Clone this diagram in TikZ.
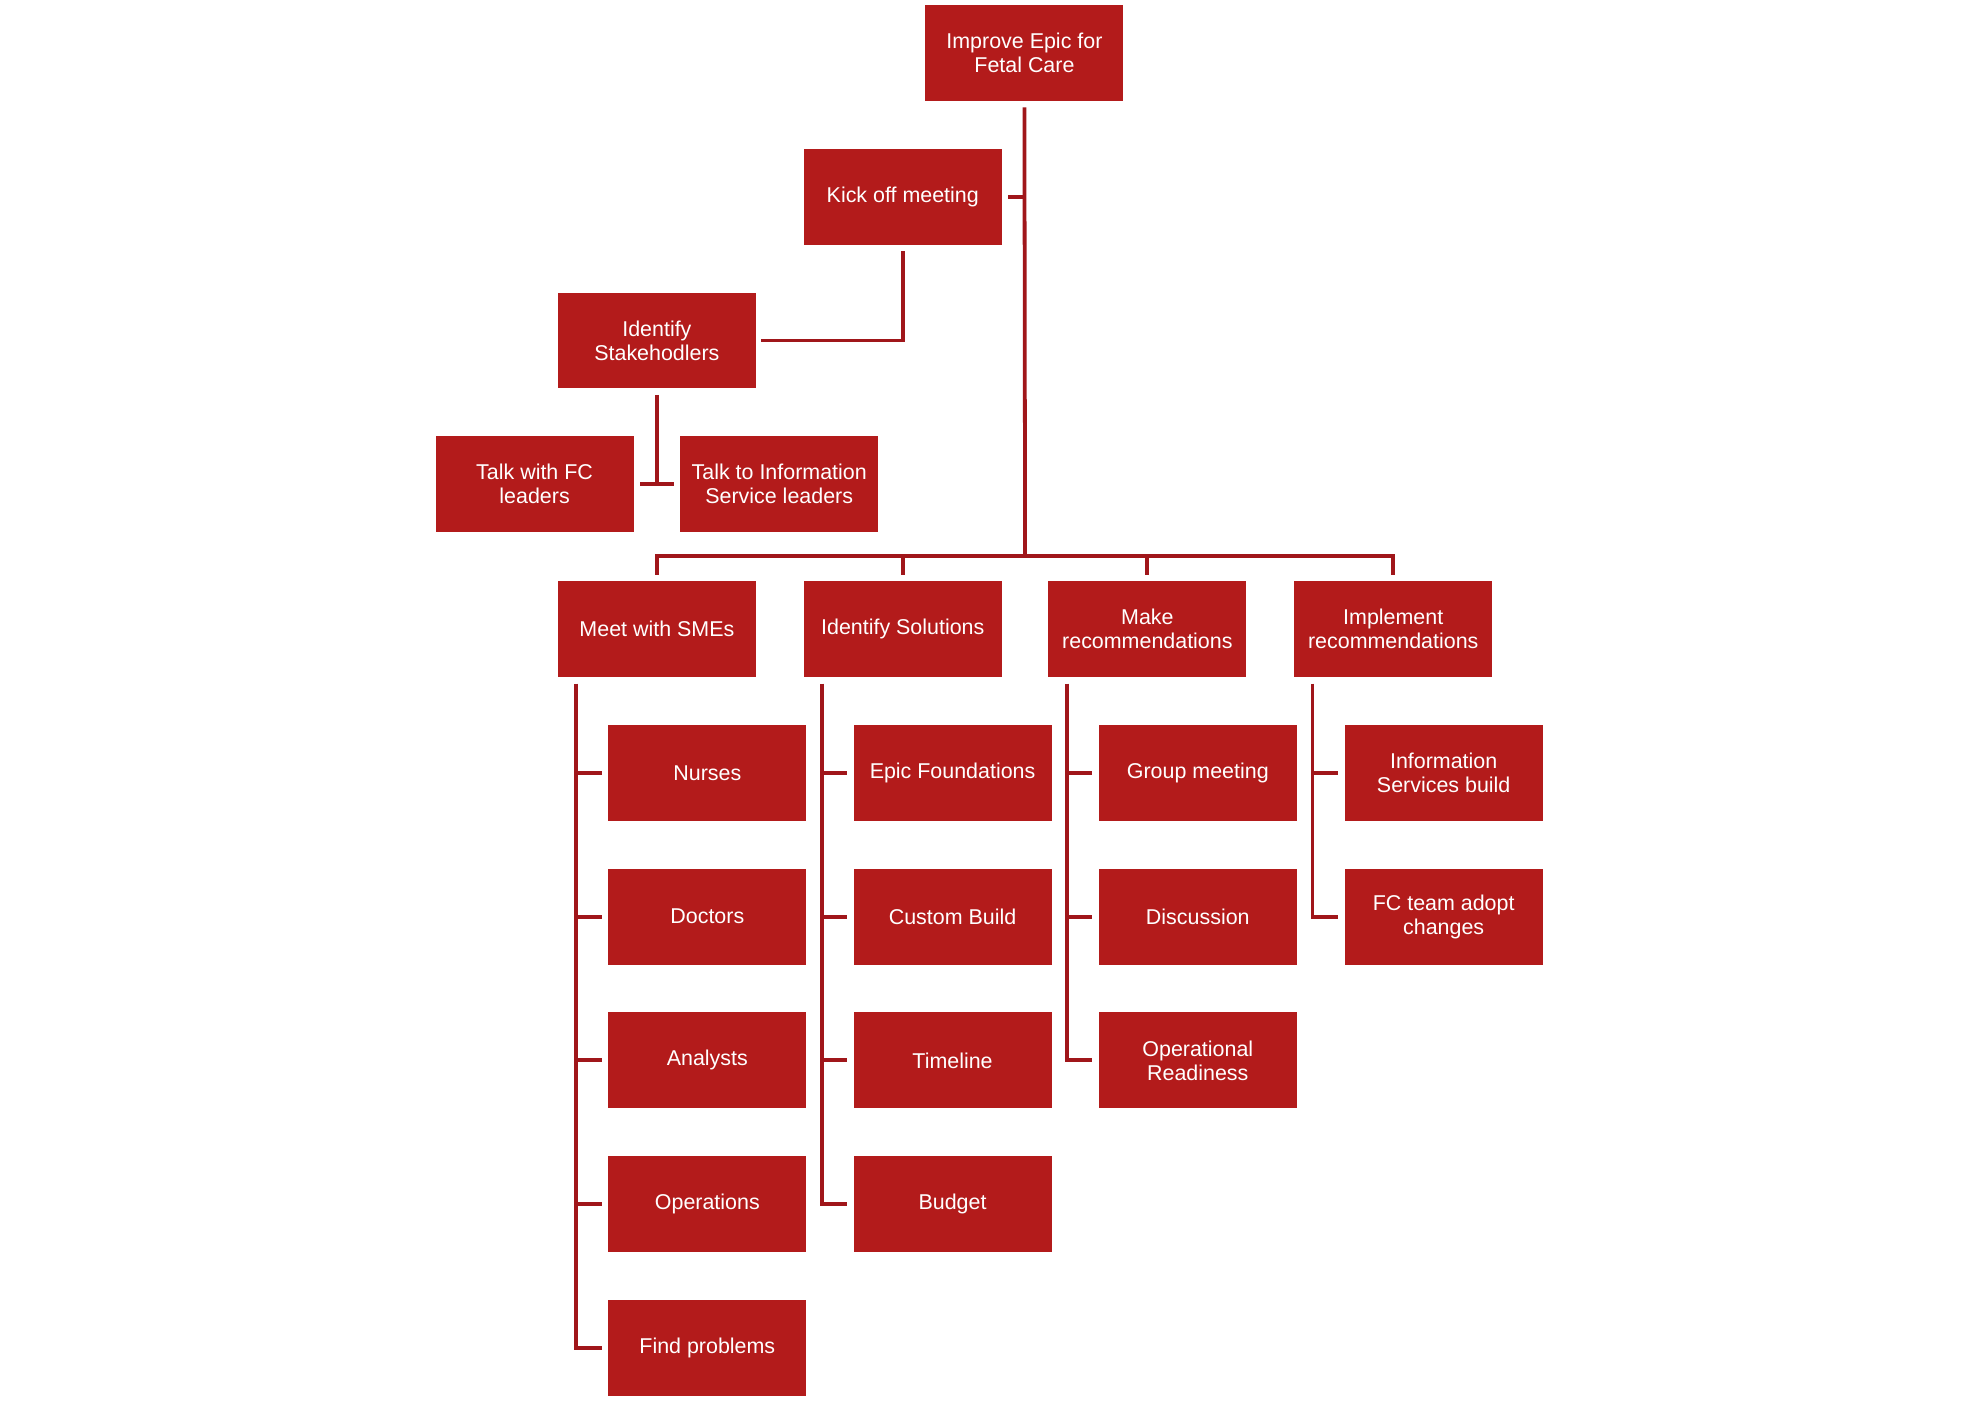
\documentclass[tikz,border=0pt]{standalone}
\usepackage{fontspec}
\setmainfont{Liberation Sans}
\definecolor{boxred}{HTML}{B31B1B}
\definecolor{linered}{HTML}{A0161A}
\begin{document}
\begin{tikzpicture}[x=1pt,y=-1pt,
  box/.style={fill=boxred,text=white,minimum width=157pt,minimum height=76pt,inner sep=2pt,align=center,font=\fontsize{17}{19}\selectfont},
  conn/.style={draw=linered,line width=3pt}]
\useasboundingbox (0,0) rectangle (1568,1112);
\node[box] (top) at (812.5,42) {Improve Epic for\\Fetal Care};
\node[box] (kick) at (716,156) {Kick off meeting};
\node[box] (stake) at (521,270) {Identify\\Stakehodlers};
\node[box] (fc) at (424,384) {Talk with FC\\leaders};
\node[box] (is) at (618,384) {Talk to Information\\Service leaders};
\node[box] (sme) at (521,499) {Meet with SMEs};
\node[box] (sol) at (716,499) {Identify Solutions};
\node[box] (rec) at (910,499) {Make\\recommendations};
\node[box] (imp) at (1105,499) {Implement\\recommendations};
\node[box] (a1) at (561,613) {Nurses};
\node[box] (a2) at (561,727) {Doctors};
\node[box] (a3) at (561,841) {Analysts};
\node[box] (a4) at (561,955) {Operations};
\node[box] (a5) at (561,1069) {Find problems};
\node[box] (b1) at (755.5,613) {Epic Foundations};
\node[box] (b2) at (755.5,727) {Custom Build};
\node[box] (b3) at (755.5,841) {Timeline};
\node[box] (b4) at (755.5,955) {Budget};
\node[box] (c1) at (950,613) {Group meeting};
\node[box] (c2) at (950,727) {Discussion};
\node[box] (c3) at (950,841) {Operational\\Readiness};
\node[box] (d1) at (1145,613) {Information\\Services build};
\node[box] (d2) at (1145,727) {FC team adopt\\changes};
% trunk
\draw[conn] ([yshift=-5pt]top.south) -- (813,441);
\draw[conn] ([xshift=5pt]kick.east) -- (813,156);
\draw[conn] (519.5,441) -- (1106.5,441);
\foreach \n in {sme,sol,rec,imp}{\draw[conn] (\n.north |- 0,441) -- ([yshift=5pt]\n.north);}
\draw[conn] ([yshift=-5pt]kick.south) |- ([xshift=4pt]stake.east);
\draw[conn] ([yshift=-5pt]stake.south) -- (521,384);
\draw[conn] ([xshift=5pt]fc.east) -- ([xshift=-5pt]is.west);
% children
\foreach \p/\last/\cs in {sme/a5/{a1,a2,a3,a4,a5},sol/b4/{b1,b2,b3,b4},rec/c3/{c1,c2,c3},imp/d2/{d1,d2}}{
  \draw[conn] ([xshift=-64pt,yshift=-5pt]\p.south) |- ([xshift=-5pt]\last.west);
  \foreach \c in \cs {\draw[conn] ([xshift=-64pt]\p.south |- \c.west) -- ([xshift=-5pt]\c.west);}
}
\end{tikzpicture}
\end{document}
